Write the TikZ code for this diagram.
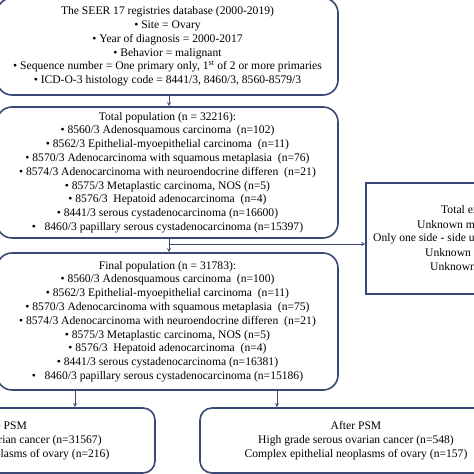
\documentclass[tikz,border=0pt]{standalone}
\usepackage{fontspec}
\setmainfont{Liberation Serif}
\usetikzlibrary{calc,positioning}
\definecolor{boxblue}{HTML}{3A4876}

\tikzset{
  flowbox/.style={draw=boxblue, line width=1.6pt, rounded corners=15pt, align=center,
    inner sep=0pt, font=\fontsize{11.6}{13.8}\selectfont},
  exclbox/.style={draw=boxblue, line width=1.6pt, inner sep=0pt},
  excltext/.style={anchor=west, inner sep=0pt, font=\fontsize{11.6}{13.8}\selectfont},
  flowarrow/.style={draw=boxblue, line width=0.9pt, -stealth},
}

\begin{document}
\begin{tikzpicture}[x=1pt,y=-1pt]
    \useasboundingbox (0,0) rectangle (474,474);

    \coordinate (split) at (169,244);
    \coordinate (leftdrop) at (75,0);
    \coordinate (rightdrop) at (277,0);

    % selection criteria
    \node[flowbox, minimum width=341pt, minimum height=97pt] (seer) at (167.5,46.5)
      {The SEER 17 registries database (2000-2019)\\
       • Site = Ovary\\
       • Year of diagnosis = 2000-2017\\
       • Behavior = malignant\\
       • Sequence number = One primary only, 1\textsuperscript{st} of 2 or more primaries\\
       • ICD-O-3 histology code = 8441/3, 8460/3, 8560-8579/3};

    \node[flowbox, minimum width=341pt, minimum height=131pt] (total) at (167.5,172.5)
      {Total population (n = 32216):\\
       • 8560/3 Adenosquamous carcinoma\ \ (n=102)\\
       • 8562/3 Epithelial-myoepithelial carcinoma\ \ (n=11)\\
       • 8570/3 Adenocarcinoma with squamous metaplasia\ \ (n=76)\\
       • 8574/3 Adenocarcinoma with neuroendocrine differen\ \ (n=21)\\
       • 8575/3 Metaplastic carcinoma, NOS (n=5)\\
       • 8576/3\ \ Hepatoid adenocarcinoma\ \ (n=4)\\
       • 8441/3 serous cystadenocarcinoma (n=16600)\\
       •\ \ \ 8460/3 papillary serous cystadenocarcinoma (n=15397)};

    \node[flowbox, minimum width=341pt, minimum height=137pt] (final) at (167.5,321.5)
      {Final population (n = 31783):\\
       • 8560/3 Adenosquamous carcinoma\ \ (n=100)\\
       • 8562/3 Epithelial-myoepithelial carcinoma\ \ (n=11)\\
       • 8570/3 Adenocarcinoma with squamous metaplasia\ \ (n=75)\\
       • 8574/3 Adenocarcinoma with neuroendocrine differen\ \ (n=21)\\
       • 8575/3 Metaplastic carcinoma, NOS (n=5)\\
       • 8576/3\ \ Hepatoid adenocarcinoma\ \ (n=4)\\
       • 8441/3 serous cystadenocarcinoma (n=16381)\\
       •\ \ \ 8460/3 papillary serous cystadenocarcinoma (n=15186)};

    % exclusions
    \node[exclbox, minimum width=274pt, minimum height=111pt] (excl) at (503,238.5) {};
    \foreach \ypos/\xpos/\txt [count=\i] in {211/441/Total excluded (n = 433):,
        225/417/Unknown median household income,
        239/373/Only one side - side unspecified,
        253/425/Unknown marital status,
        267/430/Unknown race}
      \node[excltext] (ex\i) at (\xpos,\ypos) {\txt};

    % matching
    \node[flowbox, rounded corners=12pt, minimum width=314pt, minimum height=65pt] (before) at (-2,440.5)
      {Before PSM\\
       High grade serous ovarian cancer (n=31567)\\
       Complex epithelial neoplasms of ovary (n=216)};
    \node[flowbox, rounded corners=12pt, minimum width=312pt, minimum height=65pt] (after) at (356,440.5)
      {After PSM\\
       High grade serous ovarian cancer (n=548)\\
       Complex epithelial neoplasms of ovary (n=157)};

    \draw[flowarrow] (seer.south -| split) -- (total.north -| split);
    \draw[flowarrow] (total.south -| split) -- (final.north -| split);
    \draw[flowarrow] (split) -- (split -| excl.west);
    \draw[flowarrow] (final.south -| leftdrop) -- (before.north -| leftdrop);
    \draw[flowarrow] (final.south -| rightdrop) -- (after.north -| rightdrop);
\end{tikzpicture}
\end{document}
